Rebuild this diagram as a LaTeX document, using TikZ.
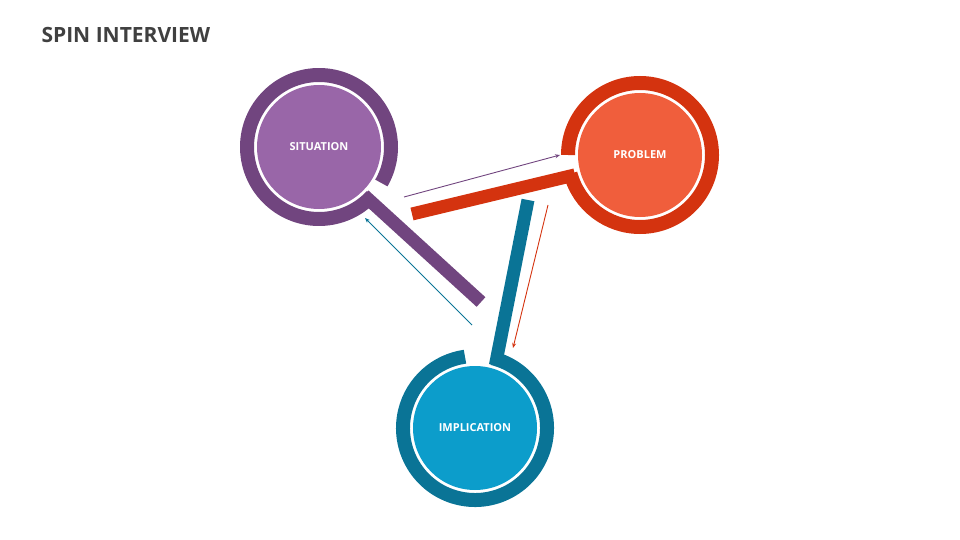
\documentclass[tikz,border=0pt]{standalone}
\usepackage{fontspec}
\setmainfont{Open Sans}
\usetikzlibrary{arrows.meta,calc}
\definecolor{pur}{HTML}{71457F}\definecolor{purf}{HTML}{9966A8}
\definecolor{ora}{HTML}{D4330F}\definecolor{oraf}{HTML}{F05E3C}
\definecolor{tea}{HTML}{0A7496}\definecolor{teaf}{HTML}{0C9DCB}
\tikzset{lab/.style={text=white,font=\bfseries\fontsize{11}{13}\selectfont},
 flow/.style={-{Stealth[length=5pt,width=4pt]},line width=0.9pt}}
\begin{document}
\begin{tikzpicture}[x=1pt,y=-1pt]
\path[use as bounding box] (0,0) rectangle (960,540);
\node[anchor=west,text=black!75,font=\bfseries\fontsize{21}{24}\selectfont] (t) at (38,35) {SPIN INTERVIEW};
% Situation
\coordinate (s) at (319,147);
\draw[pur,line width=14pt] ($(s)+(43:72)$) arc (43:390:72);
\fill[purf] (s) circle (62);
\node[lab] (sn) at (s) {SITUATION};
\coordinate (sh) at (481,302);
\draw[pur,line width=13pt] ($(s)+(47:66)$) -- (sh);
% Problem
\coordinate (p) at (640,155);
\draw[ora,line width=14pt] ($(p)+(180:72)$) arc (180:525:72);
\fill[oraf] (p) circle (62);
\node[lab] (pn) at (p) {PROBLEM};
\coordinate (ph) at (412,214);
\draw[ora,line width=13pt] ($(p)+(163:68)$) -- (ph);
% Implication
\coordinate (i) at (475,428);
\draw[tea,line width=14pt] ($(i)+(-76:72)$) arc (-76:262:72);
\fill[teaf] (i) circle (62);
\node[lab] (in) at (i) {IMPLICATION};
\coordinate (ih) at (528,200);
\draw[tea,line width=13pt] ($(i)+(-72:66)$) -- (ih);
% arrows
\coordinate (a1) at (404,197);\coordinate (a2) at (560,155);
\coordinate (b1) at (548,205);\coordinate (b2) at (513,348);
\coordinate (c1) at (472,325);\coordinate (c2) at (365,218);
\draw[flow,pur] (a1) -- (a2);
\draw[flow,ora] (b1) -- (b2);
\draw[flow,tea] (c1) -- (c2);
\end{tikzpicture}
\end{document}
